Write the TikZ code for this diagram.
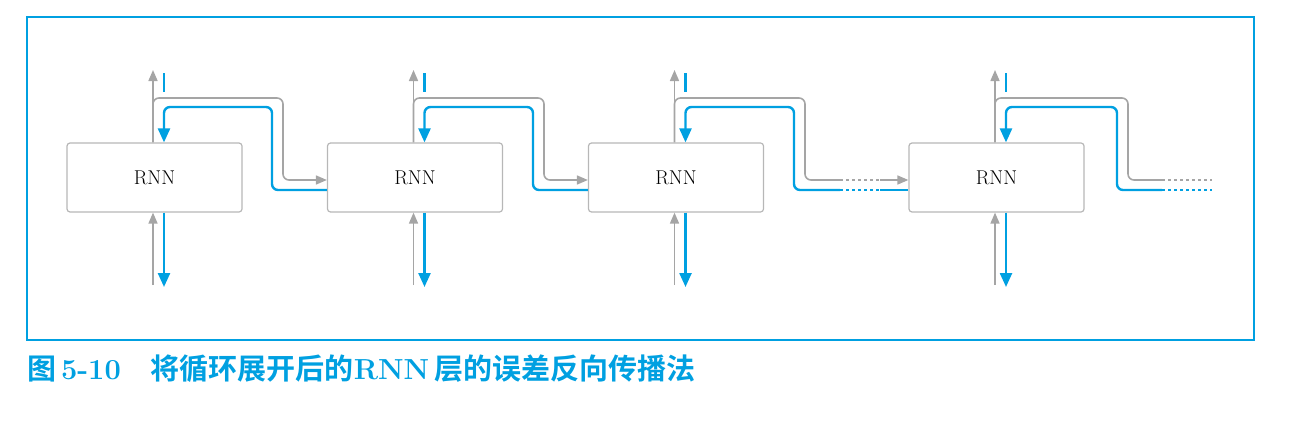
\documentclass[tikz,border=0pt]{standalone}
\usepackage{fontspec}
\newfontfamily\cjk{Noto Sans CJK SC}[BoldFont={* Bold}]
\usetikzlibrary{arrows.meta,calc}
\definecolor{bl}{RGB}{0,160,225}
\definecolor{gr}{RGB}{165,165,165}
\begin{document}
\begin{tikzpicture}[x=1pt,y=-1pt,
 box/.style={draw=gr!80,rounded corners=3pt,minimum width=175pt,minimum height=69pt,line width=1.2pt,font=\fontsize{20}{24}\selectfont},
 g/.style={draw=gr,line width=1.6pt,rounded corners=6pt},
 b/.style={draw=bl,line width=2.4pt,rounded corners=6pt},
 ga/.style={-{Triangle[length=11pt,width=9pt]}},
 ba/.style={-{Triangle[length=14pt,width=12pt]}}]
\useasboundingbox (0,0) rectangle (1289,428);
\draw[bl,line width=1.1pt] (27,17) rectangle (1254,340);
\foreach \n/\c in {1/154.5,2/415,3/676,4/996.5}{
 \node[box] (r\n) at (\c,177.5) {RNN};
 \coordinate (gt\n) at (\c-1.5,70);
 \coordinate (gb\n) at (\c-1.5,285);
 \coordinate (bt\n) at (\c+9.5,73);
 \coordinate (bm\n) at (\c+9.5,92);
 \coordinate (bb\n) at (\c+9.5,287);
 \draw[g,ga] (r\n.north -| gt\n) -- (gt\n);
 \draw[g,ga] (gb\n) -- (r\n.south -| gb\n);
 \draw[b] (bt\n) -- (bm\n);
 \draw[b,ba] (r\n.south -| bb\n) -- (bb\n);
}
% links 1->2, 2->3
\foreach \a/\bb/\xg/\xb in {1/2/283/272,2/3/544/533}{
 \draw[g,ga] ($(r\a.north)+(-1.5,0)$) |- (\xg,98) |- (r\bb.west |- 0,180);
 \draw[b,ba] (r\bb.west |- 0,190) -| (\xb,107) -| ($(r\a.north)+(9.5,0)$);
}
% 3 -> 4 with dashes
\coordinate (g3) at (805,98); \coordinate (b3) at (794,107);
\draw[g] ($(r3.north)+(-1.5,0)$) |- (g3) |- (840,180);
\draw[gr,line width=1.6pt,dashed] (840,180) -- (880,180);
\draw[gr,line width=1.6pt,ga] (880,180) -- (r4.west |- 0,180);
\draw[bl,line width=2.4pt] (880,190) -- (r4.west |- 0,190) ;
\draw[bl,line width=2.4pt,dashed] (840,190) -- (880,190);
\draw[b,ba] (840,190) -| (b3) -| ($(r3.north)+(9.5,0)$);
% after 4
\draw[g] ($(r4.north)+(-1.5,0)$) |- (1128,98) |- (1162,180);
\draw[gr,line width=1.6pt,dashed] (1162,180) -- (1212,180);
\draw[b,ba] (1162,190) -| (1117,107) -| ($(r4.north)+(9.5,0)$);
\draw[bl,line width=2.4pt,dashed] (1162,190) -- (1212,190);
\node[anchor=west,text=bl,inner sep=0pt,font=\cjk\bfseries\fontsize{29}{34}\selectfont] (cap) at (27,369)
 {图\,\textrm{\bfseries 5-10}\hspace{30pt}将循环展开后的\textrm{\bfseries RNN}\,层的误差反向传播法};
\end{tikzpicture}
\end{document}
